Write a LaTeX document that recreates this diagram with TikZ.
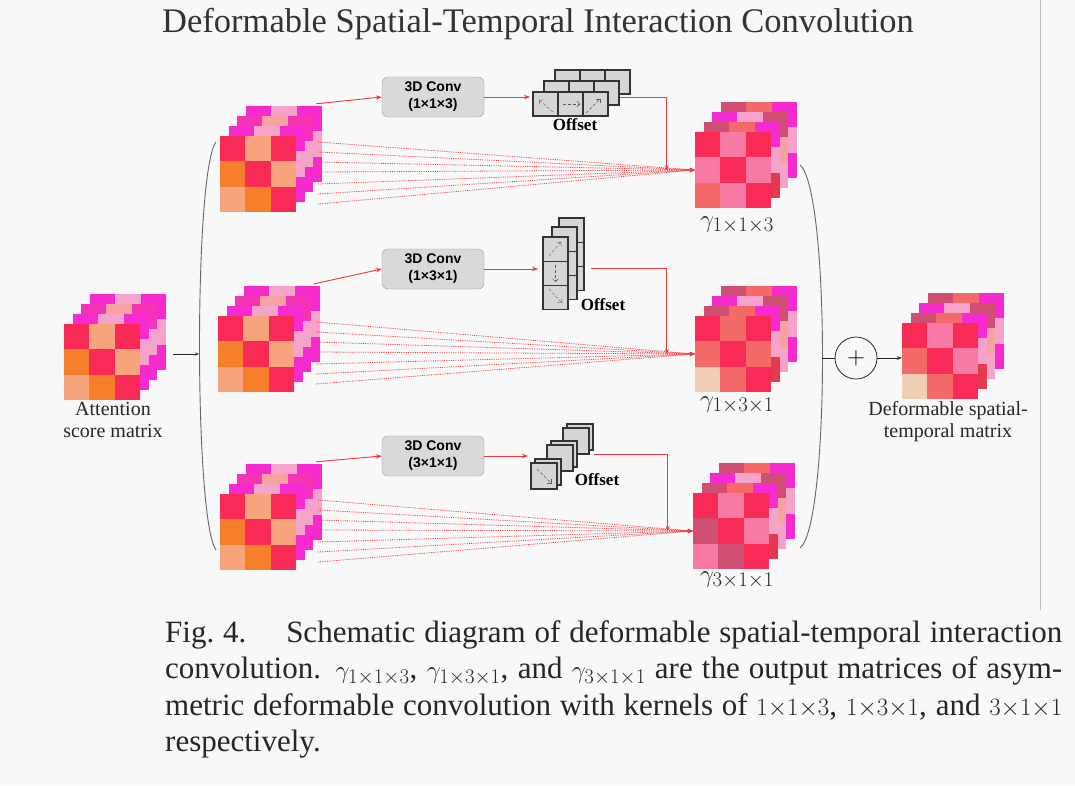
\documentclass[tikz,border=0pt]{standalone}
\usepackage{fontspec}
\setmainfont{Liberation Serif}
\newfontfamily\convfont{Liberation Sans}
\usetikzlibrary{arrows.meta,calc}
% colours of the matrix cells
\definecolor{bgc}{HTML}{F8F8F8}
\definecolor{cr}{HTML}{F72B55}
\definecolor{cs}{HTML}{F7A47C}
\definecolor{co}{HTML}{F57F2B}
\definecolor{cm}{HTML}{F52ACF}
\definecolor{chp}{HTML}{F533B5}
\definecolor{clp}{HTML}{F5A3CB}
\definecolor{csp}{HTML}{F5A3A0}
\definecolor{ccor}{HTML}{F46A68}
\definecolor{cpk}{HTML}{F77AA5}
\definecolor{crs}{HTML}{CF4F72}
\definecolor{cpe}{HTML}{F2CDB5}
\definecolor{ccr}{HTML}{E23A4F}
\definecolor{offg}{HTML}{D6D6D6}
\definecolor{convg}{HTML}{D9D9D9}
\definecolor{redl}{HTML}{F2383A}
% cell lists (row by row)
\def\fin{cr,cs,cr,co,cr,cs,cs,co,cr}
\def\binA{cm,clp,cm,cm,cm,clp,cm,cm,cm}
\def\binB{chp,csp,chp,chp,chp,clp,chp,chp,cm}
\def\binC{cm,clp,cm,cm,cm,clp,cm,cm,cm}
\def\fouA{cr,cpk,cr,cpk,cr,cpk,ccor,cpk,cr}
\def\fouB{cr,ccor,cr,ccor,cr,ccor,cpe,ccor,cr}
\def\fouC{cr,cpk,cr,crs,cr,cpk,cpk,crs,cr}
\def\fouD{cr,cpk,cr,ccor,cr,cpk,cpe,ccor,cr}
\def\boA{crs,ccor,cm,cm,cm,clp,cm,cm,ccr}
\def\boB{cm,clp,crs,cm,cm,csp,cm,cm,clp}
\def\boC{crs,ccor,cm,cm,cm,clp,cm,cm,cm}
% one 3x3 layer: x, y, list
\newcommand{\cubelayer}[3]{%
  \foreach \cl [count=\i from 0] in #3 {
    \pgfmathtruncatemacro\cc{mod(\i,3)}
    \pgfmathtruncatemacro\rr{\i/3}
    \fill[fill=\cl] ({#1+\cc*25.3},{#2+\rr*25.3}) rectangle +(25.6,25.6);
  }}
% stacked matrix: x, y, name, front, three back layers
\newcommand{\mcube}[7]{%
  \cubelayer{#1+26}{#2-30}{#7}
  \cubelayer{#1+17}{#2-20}{#6}
  \cubelayer{#1+9}{#2-10}{#5}
  \cubelayer{#1}{#2}{#4}
  \node[inner sep=0pt, minimum size=76pt] (#3) at (#1+38,#2+38) {};
}
\tikzset{
  conv/.style={draw=black!40, fill=convg, rounded corners=6pt, minimum width=102pt,
    minimum height=40pt, align=center, font=\convfont\bfseries\fontsize{14}{17}\selectfont},
  offc/.style={fill=offg, draw=black!80, line width=1.1pt},
  offa/.style={black!65, densely dashed, -{Straight Barb[length=3pt]}},
  offlab/.style={font=\bfseries\fontsize{17}{19}\selectfont},
  redarr/.style={redl, line width=0.9pt, -{Stealth[length=6pt]}},
  dotl/.style={redl, densely dotted, line width=0.8pt, -{Stealth[length=5pt]}},
  brk/.style={black!60, line width=0.9pt},
  lab/.style={align=center, font=\fontsize{20}{22}\selectfont, text=black!85},
  gam/.style={font=\fontsize{28}{30}\selectfont, text=black!85}
}
\begin{document}
\begin{tikzpicture}[x=1pt,y=-1pt]
\fill[bgc] (0,0) rectangle (1075,785);
\useasboundingbox (0,0) rectangle (1075,785);
\draw[black!25] (1040,0) -- (1040,610);

\node[text=black!80, font=\fontsize{34.5}{38}\selectfont] (title) at (538,24)
  {Deformable Spatial-Temporal Interaction Convolution};

% input
\mcube{64}{324}{in}{\fin}{\binA}{\binB}{\binC}
\node[lab] (inlab) at (113,420) {Attention\\score matrix};

% brackets
\draw[brk] (216,142) .. controls (194,170) and (194,520) .. (216,550);
\coordinate (lb) at (199,354);
\draw[black!85, line width=0.8pt, -{Stealth[length=4pt]}] ($(in.east)+(33,-8)$) -- (lb);
\draw[brk] (800,165) .. controls (830,190) and (830,525) .. (800,548);
\coordinate (rb) at (822,358);

% branch matrices
\mcube{220}{136}{b1}{\fin}{\binA}{\binB}{\binC}
\mcube{218}{316}{b2}{\fin}{\binA}{\binB}{\binC}
\mcube{220}{494}{b3}{\fin}{\binA}{\binB}{\binC}

% output matrices
\mcube{695}{132}{o1}{\fouA}{\boA}{\boB}{\boC}
\mcube{695}{316}{o2}{\fouB}{\boA}{\boB}{\boC}
\mcube{693}{493}{o3}{\fouC}{\boA}{\boB}{\boC}
\node[gam] (g1) at (737,225) {$\gamma_{1\times1\times3}$};
\node[gam] (g2) at (737,405) {$\gamma_{1\times3\times1}$};
\node[gam] (g3) at (737,580) {$\gamma_{3\times1\times1}$};

% convolutions
\node[conv] (conv1) at (433,97) {3D Conv\\(1×1×3)};
\node[conv] (conv2) at (433,269) {3D Conv\\(1×3×1)};
\node[conv] (conv3) at (433,456) {3D Conv\\(3×1×1)};

% offset 1x1x3
\foreach \ox/\oy in {22/-22, 11/-11, 0/0}
  \foreach \k in {0,1,2}
    \draw[offc] (533+\ox+\k*25, 92+\oy) rectangle +(25,24);
\draw[offa] (553,112) -- (539,100);
\draw[offa] (563,104) -- (580,104);
\draw[offa] (586,113) -- (600,99);
\coordinate (off1) at (530,97);
\coordinate (off1e) at (620,97);
\node[offlab] (ol1) at (575,125) {Offset};

% offset 1x3x1
\foreach \ox/\oy in {16/-19, 9/-10, 0/0}
  \foreach \k in {0,1,2}
    \draw[offc] (543+\ox, 237+\oy+\k*24.3) rectangle +(25,24.3);
\draw[offa] (549,256) -- (561,242);
\draw[offa] (555.5,265) -- (555.5,282);
\draw[offa] (549,289) -- (562,303);
\coordinate (off2) at (538,269);
\coordinate (off2e) at (591,268);
\node[offlab] (ol2) at (603,305) {Offset};

% offset 3x1x1
\foreach \ox/\oy in {36/-39, 32/-35, 20/-22, 16/-18, 4/-4, 0/0}
  \draw[offc] (531+\ox, 463+\oy) rectangle +(26,26);
\draw[offa] (537,469) -- (551,483);
\coordinate (off3) at (528,456);
\coordinate (off3e) at (594,454);
\node[offlab] (ol3) at (597,480) {Offset};

% connectors
\draw[redarr] ($(b1.north east)+(20,-32)$) -- (conv1.west);
\draw[redarr] ($(b2.north east)+(20,-32)$) -- (conv2.west);
\draw[redarr] ($(b3.north east)+(20,-32)$) -- (conv3.west);
\draw[redarr] (conv1.east) -- (off1);
\draw[redarr] (conv2.east) -- (off2);
\draw[redarr] (conv3.east) -- (off3);
\coordinate (m1) at ($(o1.west)+(-28,0)$);
\coordinate (m2) at ($(o2.west)+(-28,0)$);
\coordinate (m3) at ($(o3.west)+(-25,0)$);
\draw[redl, line width=0.9pt, -{Stealth[length=5pt]}] (off1e) -| (m1);
\draw[redl, line width=0.9pt, -{Stealth[length=5pt]}] (off2e) -| (m2);
\draw[redl, line width=0.9pt, -{Stealth[length=5pt]}] (off3e) -| (m3);
\foreach \dy in {-32,-22,-12,-2,10,20,30} {
  \draw[dotl] ($(b1.east)+(22,\dy)$) -- (o1.west);
  \draw[dotl] ($(b2.east)+(22,\dy)$) -- (o2.west);
  \draw[dotl] ($(b3.east)+(22,\dy)$) -- (o3.west);
}

% sum
\mcube{902}{323}{fin}{\fouD}{\boA}{\boB}{\boC}
\node[draw=black!85, circle, line width=0.8pt, minimum size=42pt, inner sep=0pt,
  font=\fontsize{30}{30}\selectfont] (plus) at (856,358) {$+$};
\draw[black!85, line width=0.8pt] (rb) -- (plus);
\draw[black!85, line width=0.8pt, -{Stealth[length=5pt]}] (plus) -- ($(fin.west)+(0,-3)$);
\node[lab] (finlab) at (948,422) {Deformable spatial-\\temporal matrix};

% caption
\node[anchor=north west, inner sep=0pt, text width=897pt, align=justify,
  font=\fontsize{31}{36.5}\selectfont, text=black!85] (cap) at (165,620)
  {Fig.~4.\quad\ Schematic diagram of deformable spatial-temporal interaction\linebreak
  convolution. $\gamma_{1\times1\times3}$, $\gamma_{1\times3\times1}$, and
  $\gamma_{3\times1\times1}$ are the output matrices of asym-\linebreak metric deformable
  convolution with kernels of $1{\times}1{\times}3$, $1{\times}3{\times}1$, and
  $3{\times}1{\times}1$\linebreak respectively.};
\end{tikzpicture}
\end{document}
